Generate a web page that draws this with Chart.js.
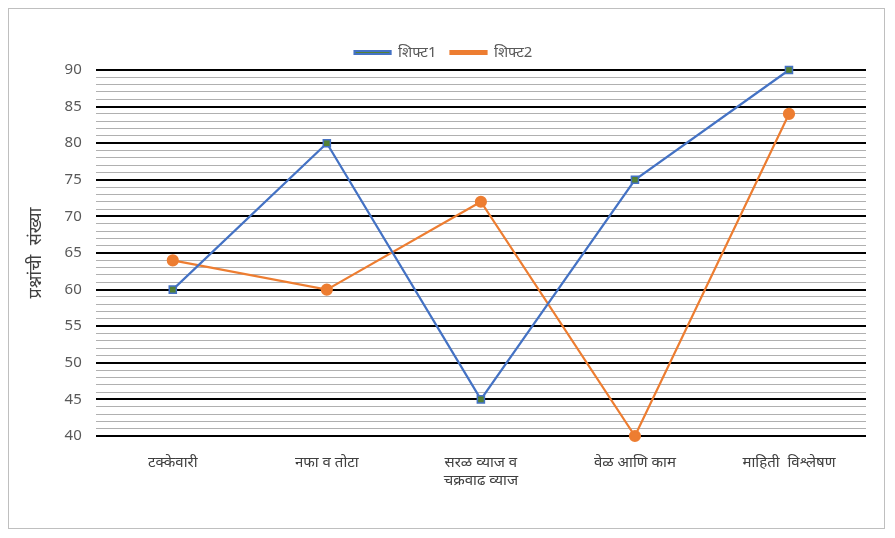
<!DOCTYPE html>
<html><head><meta charset="utf-8">
<script src="https://cdn.jsdelivr.net/npm/chart.js@4"></script>
<style>
body{margin:0;background:#fff}
#box{position:absolute;left:8px;top:8px;width:877px;height:521px;border:1px solid #bfbfbf;box-sizing:border-box}
canvas{display:block}
</style></head><body>
<div id="box"><canvas id="c" width="875" height="519"></canvas></div>
<script>
const categories = ['टक्केवारी', 'नफा व तोटा', ['सरळ व्याज व', 'चक्रवाढ व्याज'], 'वेळ आणि काम', 'माहिती  विश्लेषण'];
const shift1 = [60, 80, 45, 75, 90];
const shift2 = [64, 60, 72, 40, 84];
const font = "'Noto Sans', 'Liberation Sans', sans-serif";

new Chart(document.getElementById('c'), {
  type: 'line',
  data: {
    labels: categories,
    datasets: [
      { label: 'शिफ्ट1', data: shift1, borderColor: '#4472C4', backgroundColor: '#548235',
        pointBorderColor: '#4472C4', pointStyle: 'rect', pointRadius: 5, pointBorderWidth: 1.5,
        borderWidth: 2.2, tension: 0, clip: false },
      { label: 'शिफ्ट2', data: shift2, borderColor: '#ED7D31', backgroundColor: '#ED7D31',
        pointBorderColor: '#ED7D31', pointStyle: 'circle', pointRadius: 5,
        borderWidth: 2.2, tension: 0, clip: false }
    ]
  },
  options: {
    responsive: false,
    animation: false,
    layout: { padding: { left: 12, right: 18, top: 22, bottom: 28 } },
    plugins: {
      legend: {
        labels: { boxWidth: 36, boxHeight: 3, font: { family: font, size: 15 }, color: '#595959', padding: 14 },
        padding: 20
      },
      tooltip: { enabled: false }
    },
    scales: {
      x: {
        offset: true,
        grid: { display: false },
        border: { display: false },
        ticks: { font: { family: font, size: 15 }, color: '#404040', maxRotation: 0, autoSkip: false, padding: 10 }
      },
      y: {
        min: 40, max: 90,
        title: { display: true, text: 'प्रश्नांची  संख्या', font: { family: font, size: 18 }, color: '#404040' },
        border: { display: false },
        grid: {
          color: ctx => ctx.tick.value % 5 === 0 ? '#000000' : '#b0b0b0',
          lineWidth: ctx => ctx.tick.value % 5 === 0 ? 2 : 1,
          drawTicks: false
        },
        ticks: {
          stepSize: 1, autoSkip: false, padding: 14,
          font: { family: font, size: 15 }, color: '#595959',
          callback: v => v % 5 === 0 ? v : ''
        }
      }
    }
  }
});
</script>
</body></html>
